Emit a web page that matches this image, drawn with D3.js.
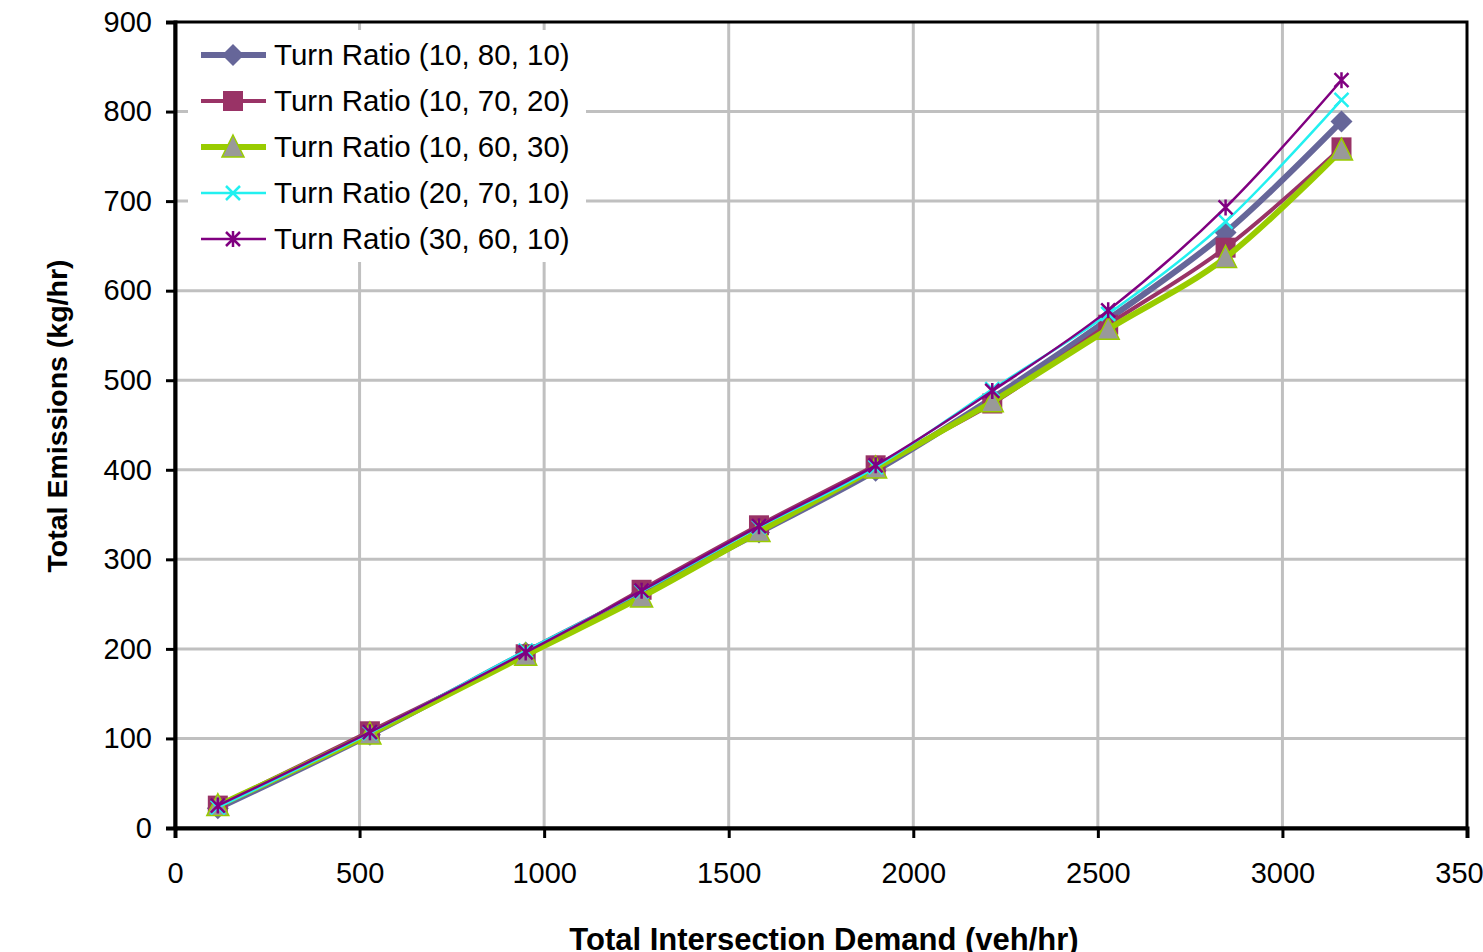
<!DOCTYPE html>
<html>
<head>
<meta charset="utf-8">
<script src="https://cdn.jsdelivr.net/npm/d3@7"></script>
<style>
  body { margin: 0; background: #fff; }
  svg { display: block; font-family: Arial, "Liberation Sans", sans-serif; }
</style>
</head>
<body>
<div id="chart"></div>
<script>
// demand values (veh/hr)
const demand = [116, 528, 950, 1264, 1582, 1898, 2214, 2528, 2846, 3160];

// total emissions (kg/hr) per turn ratio
const tr_10_80_10 = [22, 104, 196, 262, 330, 399, 480, 568, 665, 789];
const tr_10_70_20 = [25, 108, 194, 266, 338, 405, 474, 562, 648, 760];
const tr_10_60_30 = [25, 105, 193, 258, 331, 402, 476, 557, 637, 757];
const tr_20_70_10 = [23, 106, 198, 264, 336, 403, 490, 574, 677, 813];
const tr_30_60_10 = [25, 107, 196, 265, 337, 405, 488, 578, 693, 835];

const seriesNames = [
  "Turn Ratio (10, 80, 10)",
  "Turn Ratio (10, 70, 20)",
  "Turn Ratio (10, 60, 30)",
  "Turn Ratio (20, 70, 10)",
  "Turn Ratio (30, 60, 10)"
];
const xTicks = [0, 500, 1000, 1500, 2000, 2500, 3000, 3500];
const yTicks = [0, 100, 200, 300, 400, 500, 600, 700, 800, 900];

const series = [
  { name: seriesNames[0], values: tr_10_80_10, color: "#666699", width: 6, marker: "diamond", fill: "#666699" },
  { name: seriesNames[1], values: tr_10_70_20, color: "#993366", width: 4, marker: "square", fill: "#993366" },
  { name: seriesNames[2], values: tr_10_60_30, color: "#99CC00", width: 6, marker: "triangle", fill: "#999999" },
  { name: seriesNames[3], values: tr_20_70_10, color: "#22F0F0", width: 2.5, marker: "cross", fill: "none" },
  { name: seriesNames[4], values: tr_30_60_10, color: "#800080", width: 2.5, marker: "star", fill: "none" }
];

const W = 1483, H = 952;
const mLeft = 175, mRight = 1467, mTop = 22, mBottom = 828;

const svg = d3.select("#chart").append("svg")
  .attr("width", W).attr("height", H);

const x = d3.scaleLinear().domain([0, 3500]).range([mLeft, mRight]);
const y = d3.scaleLinear().domain([0, 900]).range([mBottom, mTop]);

// grid
svg.append("g").selectAll("line").data(xTicks.slice(1, -1)).join("line")
  .attr("x1", d => x(d)).attr("x2", d => x(d))
  .attr("y1", mTop).attr("y2", mBottom)
  .attr("stroke", "#c0c0c0").attr("stroke-width", 3);
svg.append("g").selectAll("line").data(yTicks.slice(1, -1)).join("line")
  .attr("x1", mLeft).attr("x2", mRight)
  .attr("y1", d => y(d)).attr("y2", d => y(d))
  .attr("stroke", "#c0c0c0").attr("stroke-width", 3);

// plot border
svg.append("rect")
  .attr("x", mLeft).attr("y", mTop)
  .attr("width", mRight - mLeft).attr("height", mBottom - mTop)
  .attr("fill", "none").attr("stroke", "#000").attr("stroke-width", 3);

// axes
const xAxis = svg.append("g")
  .attr("transform", `translate(0,${mBottom})`)
  .call(d3.axisBottom(x).tickValues(xTicks).tickSize(10).tickPadding(24).tickFormat(d3.format("d")));
const yAxis = svg.append("g")
  .attr("transform", `translate(${mLeft},0)`)
  .call(d3.axisLeft(y).tickValues(yTicks).tickSize(9).tickPadding(14).tickFormat(d3.format("d")));
[xAxis, yAxis].forEach(g => {
  g.select(".domain").attr("stroke", "#000").attr("stroke-width", 4);
  g.selectAll(".tick line").attr("stroke", "#000").attr("stroke-width", 3);
  g.selectAll(".tick text").attr("fill", "#000")
    .style("font-size", "29px").style("font-family", "Arial, 'Liberation Sans', sans-serif");
});

// axis titles
svg.append("text")
  .attr("x", 824).attr("y", 950)
  .attr("text-anchor", "middle")
  .style("font-size", "31px").style("font-weight", "bold")
  .text("Total Intersection Demand (veh/hr)");
svg.append("text")
  .attr("transform", `translate(67,416) rotate(-90)`)
  .attr("text-anchor", "middle")
  .style("font-size", "28.5px").style("font-weight", "bold")
  .text("Total Emissions (kg/hr)");

// markers
function drawMarker(g, s) {
  if (s.marker === "diamond") {
    g.append("path").attr("d", "M0,-11L11,0L0,11L-11,0Z").attr("fill", s.fill);
  } else if (s.marker === "square") {
    g.append("rect").attr("x", -10).attr("y", -10).attr("width", 20).attr("height", 20).attr("fill", s.fill);
  } else if (s.marker === "triangle") {
    g.append("path").attr("d", "M0,-12L11,10L-11,10Z").attr("fill", s.fill)
      .attr("stroke", s.color).attr("stroke-width", 1.5);
  } else if (s.marker === "cross") {
    g.append("path").attr("d", "M-7,-7L7,7M-7,7L7,-7").attr("stroke", s.color).attr("stroke-width", 2.5);
  } else if (s.marker === "star") {
    g.append("path").attr("d", "M-7,-7L7,7M-7,7L7,-7M0,-8L0,8").attr("stroke", s.color).attr("stroke-width", 2.5);
  }
}

const line = d3.line()
  .x((d, i) => x(demand[i]))
  .y(d => y(d))
  .curve(d3.curveCatmullRom.alpha(0));

const plot = svg.append("g");
series.forEach(s => {
  plot.append("path")
    .attr("d", line(s.values))
    .attr("fill", "none")
    .attr("stroke", s.color)
    .attr("stroke-width", s.width)
    .attr("stroke-linejoin", "round");
  s.values.forEach((v, i) => {
    const g = plot.append("g").attr("transform", `translate(${x(demand[i])},${y(v)})`);
    drawMarker(g, s);
  });
});

// legend
const legend = svg.append("g");
legend.append("rect")
  .attr("x", 188).attr("y", 30).attr("width", 398).attr("height", 232)
  .attr("fill", "#fff");
series.forEach((s, i) => {
  const ly = 55 + i * 46;
  legend.append("line")
    .attr("x1", 201).attr("x2", 266).attr("y1", ly).attr("y2", ly)
    .attr("stroke", s.color).attr("stroke-width", s.width);
  const g = legend.append("g").attr("transform", `translate(233,${ly})`);
  drawMarker(g, s);
  legend.append("text")
    .attr("x", 274).attr("y", ly + 10)
    .style("font-size", "29.5px")
    .text(s.name);
});
</script>
</body>
</html>
